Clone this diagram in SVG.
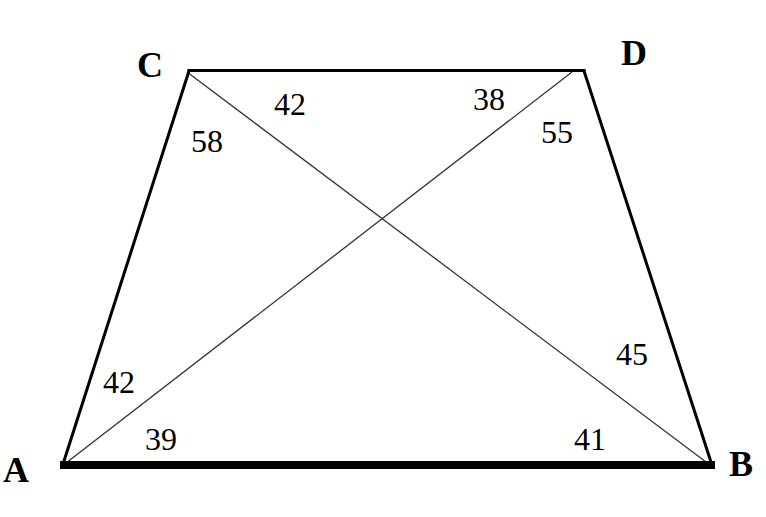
<svg xmlns="http://www.w3.org/2000/svg" width="766" height="517" viewBox="0 0 766 517">
  <style>
    .side { stroke: #000; stroke-width: 3; fill: none; stroke-linecap: square; }
    .base { stroke: #000; stroke-width: 8; fill: none; }
    .diag { stroke: #333; stroke-width: 1.3; fill: none; }
    .num { font-family: "Liberation Serif", "Times New Roman", serif; font-size: 32px; fill: #000; }
    .pt { font-family: "Liberation Serif", "Times New Roman", serif; font-size: 36px; font-weight: bold; fill: #000; }
  </style>
  <rect width="766" height="517" fill="#fff"/>
  <g id="connectors">
    <line class="diag" x1="66" y1="463" x2="572" y2="72"/>
    <line class="diag" x1="187" y1="72" x2="710" y2="465"/>
    <line class="side" x1="189" y1="70.5" x2="584" y2="70.5"/>
    <line class="side" x1="189" y1="71" x2="63" y2="464"/>
    <line class="side" x1="584" y1="71" x2="712" y2="465"/>
    <line class="base" x1="60" y1="465" x2="715" y2="465"/>
  </g>
  <g id="A"><text class="pt" x="3" y="482">A</text></g>
  <g id="B"><text class="pt" x="729" y="476">B</text></g>
  <g id="C"><text class="pt" x="137" y="77">C</text></g>
  <g id="D"><text class="pt" x="621" y="65">D</text></g>
  <g id="angles">
    <text class="num" x="274" y="115">42</text>
    <text class="num" x="191" y="152">58</text>
    <text class="num" x="473" y="110">38</text>
    <text class="num" x="541" y="143">55</text>
    <text class="num" x="103" y="393">42</text>
    <text class="num" x="145" y="450">39</text>
    <text class="num" x="616" y="365">45</text>
    <text class="num" x="574" y="450">41</text>
  </g>
</svg>
